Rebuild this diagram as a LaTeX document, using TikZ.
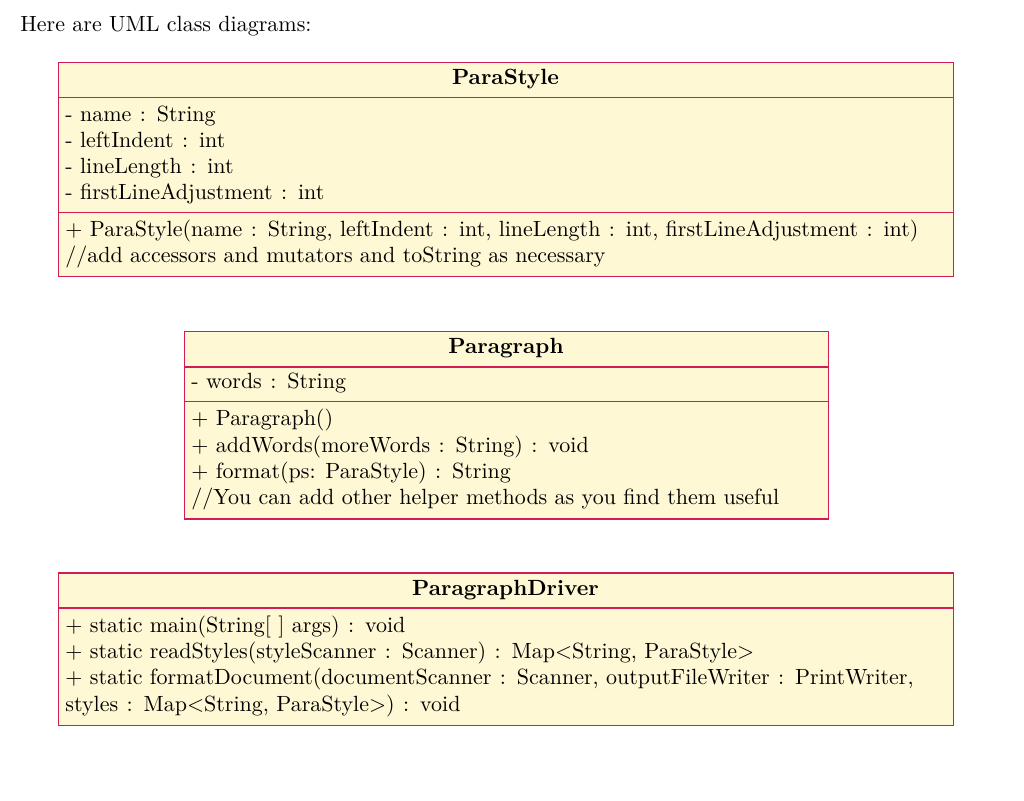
\documentclass[tikz,border=0pt]{standalone}
\definecolor{umlfill}{RGB}{255,248,212}
\definecolor{umlline}{RGB}{212,28,84}
\newcommand\cln{\kern0.5pt:\kern0.5pt}
\tikzset{
  comp/.style={draw=umlline, fill=umlfill, line width=0.5pt, anchor=north west, inner sep=0pt},
  txt/.style={anchor=base west, inner sep=0pt},
  ttl/.style={anchor=base, inner sep=0pt, font=\bfseries},
}
\begin{document}
\begin{tikzpicture}[x=0.4545pt,y=-0.4545pt]
\useasboundingbox (0,0) rectangle (1024,801);
\node[txt] (intro) at (20,31.5) {Here are UML class diagrams:};

% ParaStyle
\node[comp, minimum width=895*0.4545pt, minimum height=35*0.4545pt] (psH) at (58,62) {};
\node[comp, minimum width=895*0.4545pt, minimum height=115*0.4545pt] (psA) at (58,97) {};
\node[comp, minimum width=895*0.4545pt, minimum height=64*0.4545pt] (psM) at (58,212) {};
\node[ttl] (psT) at (505.5,85) {ParaStyle};
\node[txt] (psa1) at (65,121.5) {- name \cln{} String};
\node[txt] (psa2) at (65,147.5) {- leftIndent \cln{} int};
\node[txt] (psa3) at (65,173.5) {- lineLength \cln{} int};
\node[txt] (psa4) at (65,199.5) {- firstLineAdjustment \cln{} int};
\node[txt] (psm1) at (65,236.5) {+ ParaStyle(name \cln{} String, leftIndent \cln{} int, lineLength \cln{} int, firstLineAdjustment \cln{} int)};
\node[txt] (psm2) at (65,263) {//add accessors and mutators and toString as necessary};

% Paragraph
\node[comp, minimum width=644*0.4545pt, minimum height=35.5*0.4545pt] (pH) at (184,331) {};
\node[comp, minimum width=644*0.4545pt, minimum height=34.5*0.4545pt] (pA) at (184,366.5) {};
\node[comp, minimum width=644*0.4545pt, minimum height=117.5*0.4545pt] (pM) at (184,401) {};
\node[ttl] (pT) at (506,354) {Paragraph};
\node[txt] (pa1) at (191,388.5) {- words \cln{} String};
\node[txt] (pm1) at (191,426) {+ Paragraph()};
\node[txt] (pm2) at (191,452.5) {+ addWords(moreWords \cln{} String) \cln{} void};
\node[txt] (pm3) at (191,478.5) {+ format(ps: ParaStyle) \cln{} String};
\node[txt] (pm4) at (191,505) {//You can add other helper methods as you find them useful};

% ParagraphDriver
\node[comp, minimum width=895*0.4545pt, minimum height=35*0.4545pt] (pdH) at (58,572.5) {};
\node[comp, minimum width=895*0.4545pt, minimum height=117.5*0.4545pt] (pdM) at (58,607.5) {};
\node[ttl] (pdT) at (505.5,595.5) {ParagraphDriver};
\node[txt] (pdm1) at (65,632.5) {+ static main(String[ ] args) \cln{} void};
\node[txt] (pdm2) at (65,659) {+ static readStyles(styleScanner \cln{} Scanner) \cln{} Map$<$String, ParaStyle$>$};
\node[txt] (pdm3) at (65,685) {+ static formatDocument(documentScanner \cln{} Scanner, outputFileWriter \cln{} PrintWriter,};
\node[txt] (pdm4) at (65,711.5) {styles \cln{} Map$<$String, ParaStyle$>$) \cln{} void};
\end{tikzpicture}
\end{document}
